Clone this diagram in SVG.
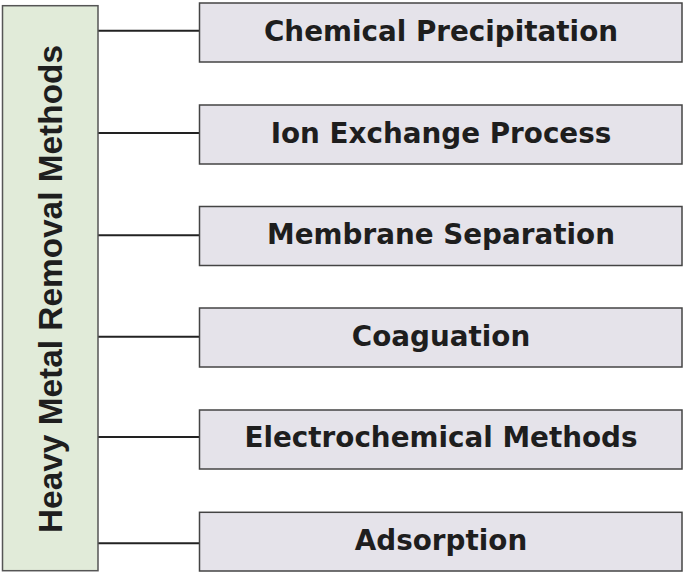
<svg xmlns="http://www.w3.org/2000/svg" width="685" height="573" viewBox="0 0 685 573">
<style>
.box{fill:#e5e3ea;stroke:#444;stroke-width:1.5}
.root{fill:#e1ebd9;stroke:#555;stroke-width:1.5}
.lbl{font-family:"DejaVu Sans",Verdana,sans-serif;font-weight:bold;font-size:27.8px;fill:#1e1e1e;text-anchor:middle}
.rlbl{font-family:"Liberation Sans",Arial,sans-serif;font-weight:bold;font-size:34px;fill:#1e1e1e;text-anchor:middle}
.conn{stroke:#222;stroke-width:2;fill:none}
</style>
<rect width="685" height="573" fill="#fff"/>
<g id="connectors">
<line class="conn" x1="98" y1="30.7" x2="199.5" y2="30.7"/>
<line class="conn" x1="98" y1="133" x2="199.5" y2="133"/>
<line class="conn" x1="98" y1="235.3" x2="199.5" y2="235.3"/>
<line class="conn" x1="98" y1="336.7" x2="199.5" y2="336.7"/>
<line class="conn" x1="98" y1="437" x2="199.5" y2="437"/>
<line class="conn" x1="98" y1="543.3" x2="199.5" y2="543.3"/>
</g>
<g id="root">
<rect class="root" x="2.5" y="5.7" width="95.5" height="565"/>
<text class="rlbl" transform="translate(61.5,289) rotate(-90)" textLength="488" lengthAdjust="spacingAndGlyphs">Heavy Metal Removal Methods</text>
</g>
<g id="n1">
<rect class="box" x="199.5" y="3" width="482.5" height="59"/>
<text class="lbl" x="441" y="40.5">Chemical Precipitation</text>
</g>
<g id="n2">
<rect class="box" x="199.5" y="105" width="482.5" height="59"/>
<text class="lbl" x="441" y="142.5">Ion Exchange Process</text>
</g>
<g id="n3">
<rect class="box" x="199.5" y="206.5" width="482.5" height="59"/>
<text class="lbl" x="441" y="244">Membrane Separation</text>
</g>
<g id="n4">
<rect class="box" x="199.5" y="308" width="482.5" height="59"/>
<text class="lbl" x="441" y="345.5">Coaguation</text>
</g>
<g id="n5">
<rect class="box" x="199.5" y="410" width="482.5" height="59"/>
<text class="lbl" x="441" y="447">Electrochemical Methods</text>
</g>
<g id="n6">
<rect class="box" x="199.5" y="512.3" width="482.5" height="58.7"/>
<text class="lbl" x="441" y="550">Adsorption</text>
</g>
</svg>
